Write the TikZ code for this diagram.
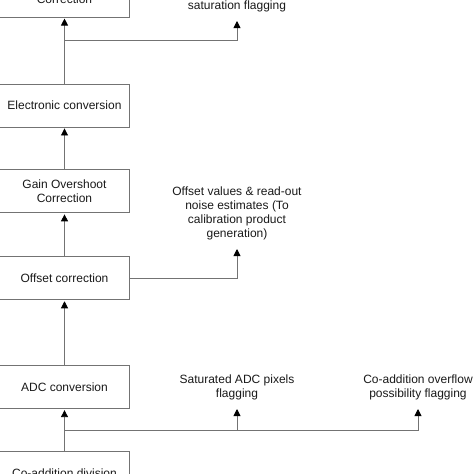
\documentclass[tikz,border=0pt]{standalone}
\usepackage{fontspec}
\setmainfont{Liberation Sans}
\usetikzlibrary{arrows.meta,positioning,calc}

\begin{document}
\begin{tikzpicture}[x=1pt, y=1pt, node distance=42pt,
    font=\fontsize{12}{14}\selectfont,
    block/.style={rectangle, draw=black!55, line width=0.9pt, minimum width=130pt,
    minimum height=43pt, align=center, text=black!90},
    note/.style={align=center, inner xsep=0pt, inner ysep=8pt, text=black!90},
    arrow/.style={-{Triangle[width=7pt,length=7pt,black]}, draw=black!55,
    line width=0.9pt, shorten >=1pt}]

    \useasboundingbox (0,0) rectangle (474,-474);

    % Processing chain
    \node[block] (elec) at (64.5,-105.5) {Electronic conversion};
    \node[block, above=66pt of elec] (corr) {\mbox{}\\[2pt]Correction};
    \node[block, below=of elec] (gain) {Gain Overshoot\\Correction};
    \node[block, below=43pt of gain] (offset) {Offset correction};
    \node[block, below=65pt of offset] (adc) {ADC conversion};
    \node[block, below=of adc] (coadd) {Co-addition division};

    % Flagging outputs
    \node[note, anchor=south] (satflag) at (237,-20) {saturation flagging};
    \node[note, anchor=south] (offnote) at (237,-248)
        {Offset values \& read-out\\noise estimates (To\\calibration product\\generation)};
    \node[note, anchor=south] (satadc) at (237,-408) {Saturated ADC pixels\\flagging};
    \node[note, anchor=south] (overflow) at (418,-408) {Co-addition overflow\\possibility flagging};

    \coordinate[above=43pt of elec.north] (split1);
    \coordinate (split2) at ($(adc.south)!.5!(coadd.north)$);

    \draw[arrow] (elec.north) -- (corr.south);
    \draw[arrow] (split1) -| (satflag.south);
    \draw[arrow] (gain.north) -- (elec.south);
    \draw[arrow] (offset.north) -- (gain.south);
    \draw[arrow] (offset.east) -| (offnote.south);
    \draw[arrow] (adc.north) -- (offset.south);
    \draw[arrow] (coadd.north) -- (adc.south);
    \draw[arrow] (split2) -| (satadc.south);
    \draw[arrow] (split2) -| (overflow.south);
\end{tikzpicture}
\end{document}
